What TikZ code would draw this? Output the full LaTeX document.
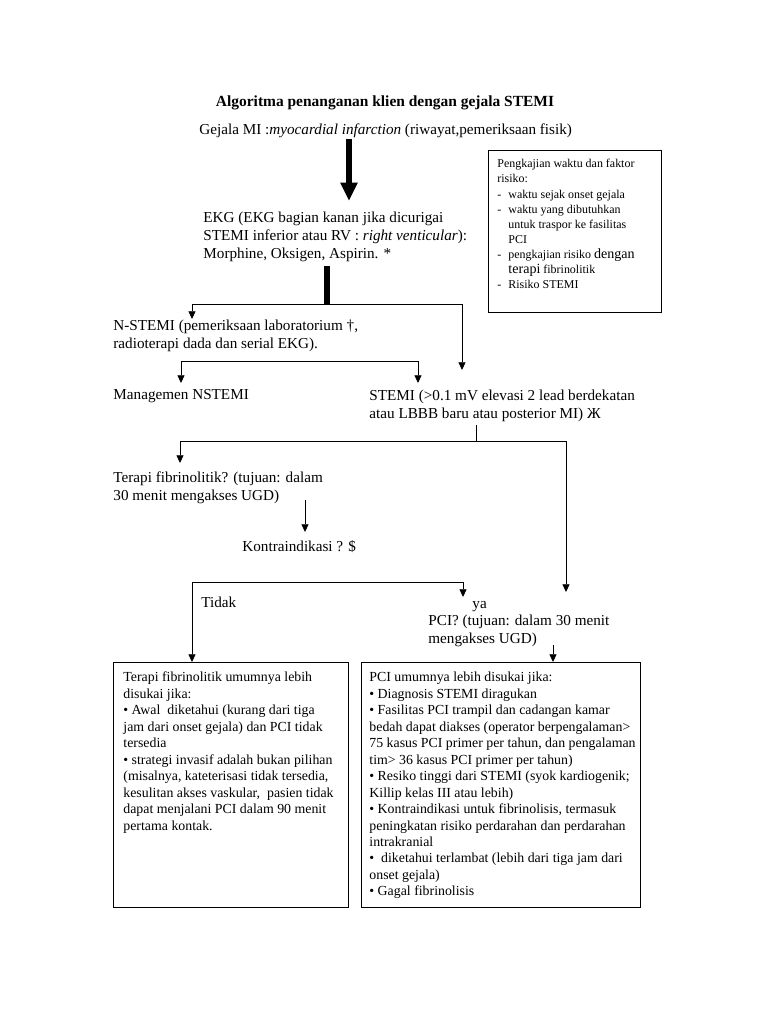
\documentclass[tikz,border=0pt]{standalone}
\usepackage{fontspec}
\setmainfont{Liberation Serif}
\usetikzlibrary{arrows.meta}

\newlength\pxu
\setlength\pxu{0.025cm}
\newcommand{\riskdash}{\makebox[11\pxu][l]{-}}
\newcommand{\riskind}{\hspace*{11\pxu}}

\begin{document}
\begin{tikzpicture}[
            x = 0.025cm, y = -0.025cm, % one unit = one pixel of the page
            > = {Triangle[length=5.5pt,width=5pt]}, % arrow head style
            semithick, % line style
            txt/.style = {anchor=north west, inner sep=0pt, align=left,
                          font=\fontsize{10.8}{12.8}\selectfont},
            box/.style = {draw, anchor=north west, inner xsep=8\pxu, inner ysep=8\pxu,
                          font=\fontsize{9.85}{11.7}\selectfont},
            thickline/.style = {line width=3.6pt},
            bigarrow/.style = {line width=4.2pt, -{Triangle[length=13pt,width=11.5pt]}}
        ]
\useasboundingbox (0,0) rectangle (768,1024);

\node[font=\bfseries\fontsize{11}{13}\selectfont] (title) at (385,103) {Algoritma penanganan klien dengan gejala STEMI};
\node[txt] (gejala) at (199,123) {Gejala MI :\textit{myocardial infarction} (riwayat,pemeriksaan fisik)};
\node[txt] (ekg) at (203,212) {EKG (EKG bagian kanan jika dicurigai\\STEMI inferior atau RV : \textit{right venticular}):\\Morphine, Oksigen, Aspirin. *};
\node[txt] (nstemi) at (113,320) {N-STEMI (pemeriksaan laboratorium †,\\radioterapi dada dan serial EKG).};
\node[txt] (mgmt) at (113,389) {Managemen NSTEMI};
\node[txt] (stemi) at (369,390) {STEMI (>0.1 mV elevasi 2 lead berdekatan\\atau LBBB baru atau posterior MI) Ж};
\node[txt] (fibq) at (113,471) {Terapi fibrinolitik? (tujuan: dalam\\30 menit mengakses UGD)};
\node[txt] (kontra) at (242,540) {Kontraindikasi ? \$};
\node[txt] (tidak) at (201,597) {Tidak};
\node[txt, anchor=base west] (ya) at (472,608) {ya};
\node[txt] (pciq) at (428,615) {PCI? (tujuan: dalam 30 menit\\mengakses UGD)};

% side box
\node[box, inner xsep=9\pxu, inner ysep=7\pxu, font=\fontsize{8.5}{10.7}\selectfont] (risiko) at (488,150) {%
\begin{minipage}[t][148\pxu][t]{155\pxu}\begin{tabular}[t]{@{}l@{}}
Pengkajian waktu dan faktor\\
risiko:\\
\riskdash waktu sejak onset gejala\\
\riskdash waktu yang dibutuhkan\\
\riskind untuk traspor ke fasilitas\\
\riskind PCI\\
\riskdash pengkajian risiko {\fontsize{10}{10.7}\selectfont dengan}\\
\riskind {\fontsize{10}{10.7}\selectfont terapi} fibrinolitik\\
\riskdash Risiko STEMI
\end{tabular}\end{minipage}};

% bottom boxes
\node[box, inner xsep=10\pxu] (fibbox) at (113,662) {%
\begin{minipage}[t][229\pxu][t]{215\pxu}\begin{tabular}[t]{@{}l@{}}
Terapi fibrinolitik umumnya lebih\\
disukai jika:\\
• Awal\ \ diketahui (kurang dari tiga\\
jam dari onset gejala) dan PCI tidak\\
tersedia\\
• strategi invasif adalah bukan pilihan\\
(misalnya, kateterisasi tidak tersedia,\\
kesulitan akses vaskular,\ \ pasien tidak\\
dapat menjalani PCI dalam 90 menit\\
pertama kontak.
\end{tabular}\end{minipage}};
\node[box] (pcibox) at (361,662) {%
\begin{minipage}[t][229\pxu][t]{263\pxu}\begin{tabular}[t]{@{}l@{}}
PCI umumnya lebih disukai jika:\\
• Diagnosis STEMI diragukan\\
• Fasilitas PCI trampil dan cadangan kamar\\
bedah dapat diakses (operator berpengalaman>\\
75 kasus PCI primer per tahun, dan pengalaman\\
tim> 36 kasus PCI primer per tahun)\\
• Resiko tinggi dari STEMI (syok kardiogenik;\\
Killip kelas III atau lebih)\\
• Kontraindikasi untuk fibrinolisis, termasuk\\
peningkatan risiko perdarahan dan perdarahan\\
intrakranial\\
•\ \ diketahui terlambat (lebih dari tiga jam dari\\
onset gejala)\\
• Gagal fibrinolisis
\end{tabular}\end{minipage}};

% bends and free ends of the connectors
\coordinate (mi-out) at (349,139);
\coordinate (ekg-in) at (349,201);
\coordinate (ekg-out) at (327,266);
\coordinate (ekg-split) at (327,304);
\coordinate (nst-in) at (192,319);
\coordinate (st-in) at (462,370);
\coordinate (nst-a) at (181,361);
\coordinate (nst-b) at (418,361);
\coordinate (mgmt-in) at (181,383);
\coordinate (st-in2) at (418,383);
\coordinate (st-out) at (476,425);
\coordinate (st-split) at (476,441);
\coordinate (fib-in) at (180,463);
\coordinate (pci-in) at (566,592);
\coordinate (fib-out) at (305,500);
\coordinate (kon-in) at (305,532);
\coordinate (kon-a) at (192,582);
\coordinate (kon-b) at (463,582);
\coordinate (ya-in) at (463,597);
\coordinate (pci-out) at (553,645);

\draw[bigarrow] (mi-out) -- (ekg-in);
\draw[thickline] (ekg-out) -- (ekg-split);
\draw[->] (ekg-split) -| (nst-in);
\draw[->] (ekg-split) -| (st-in);
\draw[<->] (mgmt-in) -- (nst-a) -- (nst-b) -- (st-in2);
\draw (st-out) -- (st-split);
\draw[->] (st-split) -| (fib-in);
\draw[->] (st-split) -| (pci-in);
\draw[->] (fib-out) -- (kon-in);
\draw[->] (kon-a) -- (kon-b) -- (ya-in);
\draw[->] (kon-a) -- (kon-a |- fibbox.north);
\draw[->] (pci-out) -- (pci-out |- pcibox.north);
\end{tikzpicture}
\end{document}
